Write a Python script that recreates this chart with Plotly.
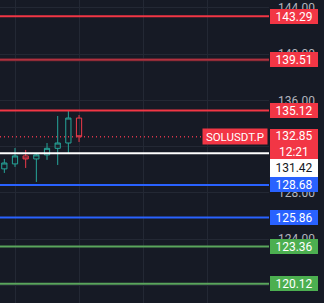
import plotly.graph_objects as go

# Candle data (index positions)
idx = [0, 1, 2, 3, 4, 5, 6, 7]
opens = [130.07, 130.50, 131.19, 130.93, 131.28, 131.85, 132.31, 134.47]
highs = [130.93, 131.88, 131.71, 131.45, 132.31, 134.65, 135.08, 134.73]
lows = [129.72, 130.24, 130.15, 128.94, 130.85, 130.41, 131.36, 132.40]
closes = [130.58, 131.19, 130.93, 131.28, 131.85, 132.31, 134.47, 132.85]

# Horizontal level lines
red_levels = [143.29, 135.12]
dark_red_levels = [139.51]
blue_levels = [128.68, 125.86]
green_levels = [123.36, 120.12]
white_level = 131.42
last_price = 132.85
symbol = "SOLUSDT.P"
countdown = "12:21"

tick_vals = [120, 124, 128, 132, 136, 140, 144]
tick_text = ["120.00", "124.00", "128.00", "132.00", "136.00", "140.00", "144.00"]

BG = "#161a25"
RED = "#f23645"
BLUE = "#2962ff"
GREEN = "#4caf50"
TEAL = "#26a69a"
FONT = "Roboto"

fig = go.Figure()
fig.add_trace(go.Candlestick(
    x=idx, open=opens, high=highs, low=lows, close=closes,
    increasing=dict(line=dict(color=TEAL, width=1), fillcolor="rgba(0,0,0,0)"),
    decreasing=dict(line=dict(color="#ef3b4a", width=1), fillcolor="rgba(0,0,0,0)"),
    whiskerwidth=0, showlegend=False, hoverinfo="skip",
))

shapes = []
def hline(y, color, width, dash="solid", x1=1):
    shapes.append(dict(type="line", xref="paper", yref="y", x0=0, x1=x1, y0=y, y1=y,
                       line=dict(color=color, width=width, dash=dash), layer="above"))

for v in red_levels:
    hline(v, RED, 2)
for v in dark_red_levels:
    hline(v, "#6e2430", 3)
    hline(v, "#d23a48", 1)
for v in blue_levels:
    hline(v, BLUE, 2)
for v in green_levels:
    hline(v, "#5aa55c", 2)
hline(white_level, "#ffffff", 2)
hline(last_price, "#d8354a", 1.5, dash="1px,3px", x1=0.755)

annotations = []
def label(y, text, bg, fg="#ffffff", height=15, yanchor="middle", yshift=0):
    annotations.append(dict(xref="paper", yref="y", x=1, y=y, xanchor="left", yanchor=yanchor,
                            xshift=1, yshift=yshift, text=text, showarrow=False,
                            bgcolor=bg, width=48, height=height, borderpad=0, borderwidth=0,
                            align="center", font=dict(family=FONT, size=12, color=fg)))

for v in red_levels + dark_red_levels:
    label(v, f"{v:.2f}", RED)
for v in blue_levels:
    label(v, f"{v:.2f}", BLUE)
for v in green_levels:
    label(v, f"{v:.2f}", GREEN)
label(last_price, f"{last_price:.2f}<br>{countdown}", RED, height=30, yanchor="top", yshift=8)
label(white_level, f"{white_level:.2f}", "#ffffff", fg="#131722", height=18, yanchor="top", yshift=-6)

annotations.append(dict(xref="paper", yref="y", x=1, y=last_price, xanchor="right", yanchor="middle",
                        xshift=-1, text=symbol, showarrow=False, bgcolor=RED, width=64, height=15,
                        borderpad=0, align="center", font=dict(family=FONT, size=11.5, color="#ffffff")))

fig.update_layout(
    width=324, height=303, margin=dict(l=0, r=55, t=0, b=0),
    paper_bgcolor=BG, plot_bgcolor=BG,
    shapes=shapes, annotations=annotations,
    xaxis=dict(range=[-0.406, 24.8], rangeslider=dict(visible=False), showticklabels=False,
               tick0=1, dtick=6, showgrid=True, gridcolor="#232834", gridwidth=1, zeroline=False,
               showline=False, fixedrange=True),
    yaxis=dict(range=[118.46, 144.69], side="right", tickvals=tick_vals, ticktext=tick_text,
               showgrid=True, gridcolor="#232834", gridwidth=1, zeroline=False, showline=False,
               ticks="", ticklabelstandoff=8, tickfont=dict(family=FONT, size=12, color="#b2b5be")),
    font=dict(family=FONT),
)

fig.write_html("out.html")
